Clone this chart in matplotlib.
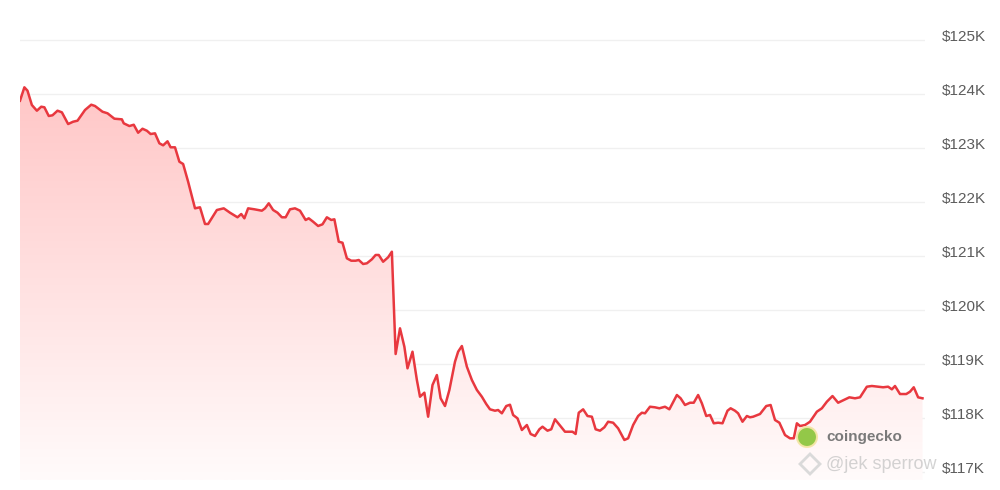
import numpy as np
import matplotlib
matplotlib.use("Agg")
import matplotlib.pyplot as plt
import matplotlib.transforms as mtransforms
from matplotlib.patches import Circle, RegularPolygon
from matplotlib.ticker import FixedLocator

# time in minutes since start of the 24h window
minutes = [0, 7, 12, 19, 27, 34, 39, 46, 52, 60, 67, 77, 85, 92, 104, 114, 120, 132, 140, 151,
           163, 166, 175, 182, 189, 196, 203, 209, 216, 223, 229, 236, 241, 248, 255, 261, 269,
           280, 288, 296, 301, 315, 326, 336, 348, 354, 359, 365, 375, 387, 392, 398, 405, 412,
           419, 425, 432, 440, 448, 457, 462, 469, 477, 484, 491, 498, 503, 510, 516, 523, 530,
           537, 542, 549, 555, 563, 569, 574, 581, 589, 595, 601, 608, 615, 620, 628, 635, 640,
           647, 653, 660, 667, 673, 680, 687, 696, 701, 707, 715, 723, 731, 739, 746, 752, 760,
           765, 771, 778, 784, 789, 796, 803, 811, 817, 824, 831, 836, 844, 850, 856, 862, 872,
           878, 884, 889, 894, 901, 908, 915, 921, 928, 935, 941, 949, 957, 967, 973, 981, 989,
           995, 1000, 1008, 1016, 1023, 1032, 1039, 1051, 1057, 1064, 1072, 1078, 1085, 1091,
           1098, 1104, 1110, 1117, 1124, 1132, 1137, 1144, 1149, 1156, 1163, 1168, 1173, 1184,
           1194, 1201, 1208, 1215, 1224, 1232, 1238, 1243, 1248, 1256, 1264, 1275, 1283, 1291,
           1300, 1309, 1318, 1327, 1336, 1344, 1355, 1363, 1373, 1381, 1389, 1395, 1400, 1408,
           1418, 1424, 1430, 1437, 1444]

# price in thousands of USD
price_k = [123.876, 124.124, 124.061, 123.796, 123.691, 123.765, 123.754, 123.593, 123.606,
           123.691, 123.661, 123.444, 123.487, 123.506, 123.704, 123.802, 123.778, 123.672,
           123.643, 123.543, 123.531, 123.457, 123.407, 123.431, 123.283, 123.357, 123.320,
           123.259, 123.272, 123.087, 123.050, 123.124, 123.013, 123.013, 122.746, 122.704,
           122.376, 121.883, 121.902, 121.593, 121.593, 121.852, 121.883, 121.802, 121.717,
           121.778, 121.698, 121.883, 121.865, 121.839, 121.883, 121.976, 121.852, 121.802,
           121.717, 121.717, 121.865, 121.883, 121.839, 121.667, 121.698, 121.635, 121.556,
           121.587, 121.717, 121.667, 121.680, 121.265, 121.246, 120.957, 120.913, 120.913,
           120.926, 120.852, 120.865, 120.939, 121.019, 121.019, 120.894, 120.976, 121.080,
           119.185, 119.661, 119.320, 118.920, 119.228, 118.704, 118.394, 118.469, 118.024,
           118.611, 118.796, 118.365, 118.222, 118.519, 119.043, 119.228, 119.333, 118.950,
           118.704, 118.519, 118.394, 118.259, 118.161, 118.135, 118.148, 118.087, 118.222,
           118.246, 118.056, 117.994, 117.778, 117.870, 117.704, 117.667, 117.791, 117.839,
           117.765, 117.791, 117.976, 117.889, 117.746, 117.746, 117.746, 117.704, 118.098,
           118.161, 118.037, 118.024, 117.791, 117.765, 117.828, 117.931, 117.913, 117.809,
           117.593, 117.624, 117.870, 118.037, 118.098, 118.087, 118.209, 118.198, 118.180,
           118.209, 118.161, 118.426, 118.365, 118.241, 118.283, 118.283, 118.426, 118.272,
           118.037, 118.056, 117.902, 117.913, 117.902, 118.135, 118.180, 118.135, 118.087,
           117.931, 118.037, 118.013, 118.024, 118.074, 118.222, 118.241, 117.963, 117.913,
           117.685, 117.624, 117.624, 117.902, 117.852, 117.870, 117.931, 118.117, 118.180,
           118.302, 118.407, 118.283, 118.333, 118.383, 118.365, 118.383, 118.580, 118.593,
           118.580, 118.569, 118.580, 118.531, 118.593, 118.444, 118.444, 118.487, 118.569,
           118.383, 118.365]

y_ticks_k = [117, 118, 119, 120, 121, 122, 123, 124, 125]
y_tick_labels = ["$117K", "$118K", "$119K", "$120K", "$121K", "$122K", "$123K", "$124K", "$125K"]

t = np.array(minutes, dtype=float)
p = np.array(price_k) * 1000.0

fig = plt.figure(figsize=(10, 4.9), dpi=100)
ax = fig.add_axes([0.02, 10 / 490, 0.905, 455 / 490])
ymin, ymax = 116852, 125278
ax.set_xlim(0, 1448)
ax.set_ylim(ymin, ymax)

# gridlines
for v in y_ticks_k:
    ax.axhline(v * 1000, color="#f0f0f0", lw=1.0, zorder=0)

# gradient fill under the curve
grad = np.linspace(0, 1, 256).reshape(-1, 1)
top_rgb = np.array([255, 198, 198]) / 255.0
bot_rgb = np.array([255, 251, 251]) / 255.0
img = bot_rgb[None, None, :] * (1 - grad[:, :, None]) + top_rgb[None, None, :] * grad[:, :, None]
fill = ax.fill_between(t, p, ymin, color="none", lw=0)
im = ax.imshow(img, extent=[t[0], t[-1], ymin, 124200], origin="lower", aspect="auto", zorder=1)
im.set_clip_path(fill.get_paths()[0], transform=ax.transData)

ax.plot(t, p, color="#e8383f", lw=1.8, zorder=3, solid_joinstyle="round")

# axes styling
for s in ax.spines.values():
    s.set_visible(False)
ax.set_xticks([])
ax.yaxis.tick_right()
ax.yaxis.set_major_locator(FixedLocator([v * 1000 for v in y_ticks_k]))
ax.set_yticklabels(y_tick_labels)
ax.tick_params(axis="y", length=0, pad=12, labelsize=11, labelcolor="#5c5c5c")
shift = mtransforms.ScaledTranslation(0, 5 / 100, fig.dpi_scale_trans)
for lab in ax.get_yticklabels():
    lab.set_fontfamily(["Liberation Sans", "DejaVu Sans"])
    lab.set_transform(lab.get_transform() + shift)

# watermarks
fig.patches.append(Circle((807, 490 - 437), 10, transform=None, facecolor="#8dc63f",
                          edgecolor="#f5e6a8", lw=1.5, alpha=0.95, zorder=5))
fig.text(0.826, 1 - 437 / 490, "coingecko", fontsize=11, fontweight="bold", color="#7a7a7a",
         va="center", ha="left", family=["Liberation Sans", "DejaVu Sans"])
fig.patches.append(RegularPolygon((810, 490 - 464), 4, radius=10, transform=None,
                                  facecolor="none", edgecolor="#dadada", lw=2, zorder=5))
fig.text(0.826, 1 - 464 / 490, "@jek sperrow", fontsize=13, color="#c8c8c8", alpha=0.8,
         va="center", ha="left", family=["Liberation Sans", "DejaVu Sans"])

fig.savefig("out.png", dpi=100, facecolor="white")
